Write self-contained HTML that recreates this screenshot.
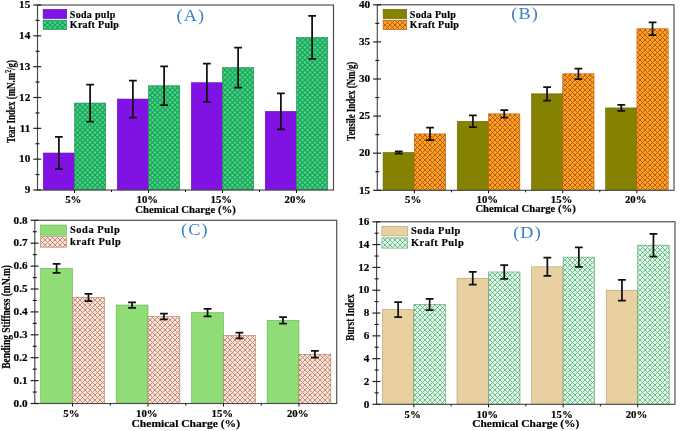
<!DOCTYPE html>
<html><head><meta charset="utf-8"><style>
html,body{margin:0;padding:0;background:#fff;}
svg{display:block;filter:blur(0.45px);}
text{font-family:"Liberation Serif",serif;font-weight:bold;fill:#000;stroke:#000;stroke-width:0.18px;}
.tl{font-size:10px;}
.al{font-size:10.2px;}
.yl{font-size:11.6px;}
.lg{font-size:10px;letter-spacing:0.3px;}
.tt{font-size:16.3px;font-weight:normal;fill:#3a82c4;stroke:none;letter-spacing:1px;}
</style></head><body>
<svg width="685" height="431" viewBox="0 0 685 431">
<defs>
<pattern id="pA" patternUnits="userSpaceOnUse" width="5" height="5">
 <rect width="5" height="5" fill="#40d886"/>
 <path d="M-1,-1 L6,6 M6,-1 L-1,6" stroke="#1f9c55" stroke-width="1.15"/>
</pattern>
<pattern id="pB" patternUnits="userSpaceOnUse" width="5" height="5">
 <rect width="5" height="5" fill="#fca222"/>
 <path d="M-1,-1 L6,6 M6,-1 L-1,6" stroke="#b8560e" stroke-width="0.95"/>
</pattern>
<pattern id="pC" patternUnits="userSpaceOnUse" width="5" height="5">
 <rect width="5" height="5" fill="#ffe2d4"/>
 <path d="M-1,-1 L6,6 M6,-1 L-1,6" stroke="#bc8a78" stroke-width="0.95"/>
</pattern>
<pattern id="pD" patternUnits="userSpaceOnUse" width="5" height="5">
 <rect width="5" height="5" fill="#dafbe6"/>
 <path d="M-1,-1 L6,6 M6,-1 L-1,6" stroke="#72b488" stroke-width="0.95"/>
</pattern>
</defs>
<rect width="685" height="431" fill="#fff"/>
<rect x="43.27" y="153" width="31.23" height="37" fill="#8012e4" stroke="#6a10c0" stroke-width="0.6"/>
<rect x="74.5" y="103.05" width="31.23" height="86.95" fill="url(#pA)" stroke="#1e8a50" stroke-width="0.6"/>
<path d="M58.89,136.97V169.03M54.99,136.97H62.79M54.99,169.03H62.79" stroke="#111" stroke-width="1.75" fill="none"/>
<path d="M90.11,84.55V121.55M86.21,84.55H94.01M86.21,121.55H94.01" stroke="#111" stroke-width="1.75" fill="none"/>
<rect x="117.27" y="99.04" width="31.23" height="90.96" fill="#8012e4" stroke="#6a10c0" stroke-width="0.6"/>
<rect x="148.5" y="85.78" width="31.23" height="104.22" fill="url(#pA)" stroke="#1e8a50" stroke-width="0.6"/>
<path d="M132.89,80.54V117.54M128.99,80.54H136.79M128.99,117.54H136.79" stroke="#111" stroke-width="1.75" fill="none"/>
<path d="M164.11,66.36V105.21M160.21,66.36H168.01M160.21,105.21H168.01" stroke="#111" stroke-width="1.75" fill="none"/>
<rect x="191.27" y="82.7" width="31.23" height="107.3" fill="#8012e4" stroke="#6a10c0" stroke-width="0.6"/>
<rect x="222.5" y="67.59" width="31.23" height="122.41" fill="url(#pA)" stroke="#1e8a50" stroke-width="0.6"/>
<path d="M206.89,63.58V101.82M202.99,63.58H210.79M202.99,101.82H210.79" stroke="#111" stroke-width="1.75" fill="none"/>
<path d="M238.11,47.55V87.63M234.21,47.55H242.01M234.21,87.63H242.01" stroke="#111" stroke-width="1.75" fill="none"/>
<rect x="265.27" y="111.37" width="31.23" height="78.63" fill="#8012e4" stroke="#6a10c0" stroke-width="0.6"/>
<rect x="296.5" y="37.38" width="31.23" height="152.62" fill="url(#pA)" stroke="#1e8a50" stroke-width="0.6"/>
<path d="M280.89,93.49V129.26M276.99,93.49H284.79M276.99,129.26H284.79" stroke="#111" stroke-width="1.75" fill="none"/>
<path d="M312.11,15.79V58.96M308.21,15.79H316.01M308.21,58.96H316.01" stroke="#111" stroke-width="1.75" fill="none"/>
<rect x="37.5" y="5" width="296" height="185" fill="none" stroke="#4a4a4a" stroke-width="1.15"/>
<path d="M33.3,190H41.2" stroke="#222" stroke-width="1.2"/>
<text transform="translate(30.3,193.2) scale(1.12,1)" text-anchor="end" class="tl">9</text>
<path d="M35.5,174.58H39.5" stroke="#111" stroke-width="1.1"/>
<path d="M33.3,159.17H41.2" stroke="#222" stroke-width="1.2"/>
<text transform="translate(30.3,162.37) scale(1.12,1)" text-anchor="end" class="tl">10</text>
<path d="M35.5,143.75H39.5" stroke="#111" stroke-width="1.1"/>
<path d="M33.3,128.33H41.2" stroke="#222" stroke-width="1.2"/>
<text transform="translate(30.3,131.53) scale(1.12,1)" text-anchor="end" class="tl">11</text>
<path d="M35.5,112.92H39.5" stroke="#111" stroke-width="1.1"/>
<path d="M33.3,97.5H41.2" stroke="#222" stroke-width="1.2"/>
<text transform="translate(30.3,100.7) scale(1.12,1)" text-anchor="end" class="tl">12</text>
<path d="M35.5,82.08H39.5" stroke="#111" stroke-width="1.1"/>
<path d="M33.3,66.67H41.2" stroke="#222" stroke-width="1.2"/>
<text transform="translate(30.3,69.87) scale(1.12,1)" text-anchor="end" class="tl">13</text>
<path d="M35.5,51.25H39.5" stroke="#111" stroke-width="1.1"/>
<path d="M33.3,35.83H41.2" stroke="#222" stroke-width="1.2"/>
<text transform="translate(30.3,39.03) scale(1.12,1)" text-anchor="end" class="tl">14</text>
<path d="M35.5,20.42H39.5" stroke="#111" stroke-width="1.1"/>
<path d="M33.3,5H41.2" stroke="#222" stroke-width="1.2"/>
<text transform="translate(30.3,8.2) scale(1.12,1)" text-anchor="end" class="tl">15</text>
<path d="M74.5,190V193" stroke="#111" stroke-width="1"/>
<text transform="translate(73.3,203) scale(1.08,1)" text-anchor="middle" class="tl">5%</text>
<path d="M148.5,190V193" stroke="#111" stroke-width="1"/>
<text transform="translate(147.3,203) scale(1.08,1)" text-anchor="middle" class="tl">10%</text>
<path d="M111.5,190V192" stroke="#111" stroke-width="1"/>
<path d="M222.5,190V193" stroke="#111" stroke-width="1"/>
<text transform="translate(221.3,203) scale(1.08,1)" text-anchor="middle" class="tl">15%</text>
<path d="M185.5,190V192" stroke="#111" stroke-width="1"/>
<path d="M296.5,190V193" stroke="#111" stroke-width="1"/>
<text transform="translate(295.3,203) scale(1.08,1)" text-anchor="middle" class="tl">20%</text>
<path d="M259.5,190V192" stroke="#111" stroke-width="1"/>
<text x="185.5" y="213" text-anchor="middle" class="al" textLength="100.5" lengthAdjust="spacingAndGlyphs">Chemical Charge (%)</text>
<text transform="translate(15,101.5) rotate(-90)" text-anchor="middle" class="yl" textLength="83" lengthAdjust="spacingAndGlyphs">Tear Index (mN.m<tspan font-size="7.5" dy="-3.8">2</tspan><tspan dy="3.8">/g)</tspan></text>
<rect x="43.1" y="9.3" width="23.6" height="9.3" fill="#8012e4" stroke="#6a10c0" stroke-width="0.6"/>
<rect x="43.1" y="20.1" width="23.6" height="9.5" fill="url(#pA)" stroke="#1e8a50" stroke-width="0.6"/>
<text x="69.8" y="17.9" class="lg" style="font-size:10px;letter-spacing:0.3px">Soda pulp</text>
<text x="69.8" y="28.4" class="lg" style="font-size:10px;letter-spacing:0.3px">Kraft Pulp</text>
<text transform="translate(190.9,20.5) scale(1.12,1)" text-anchor="middle" class="tt">(A)</text>
<rect x="383.09" y="152.46" width="31.3" height="37.84" fill="#848200" stroke="#6a6800" stroke-width="0.6"/>
<rect x="414.39" y="133.91" width="31.3" height="56.39" fill="url(#pB)" stroke="#c05a18" stroke-width="0.6"/>
<path d="M398.74,151.35V153.57M394.84,151.35H402.64M394.84,153.57H402.64" stroke="#111" stroke-width="1.75" fill="none"/>
<path d="M430.04,127.6V140.22M426.14,127.6H433.94M426.14,140.22H433.94" stroke="#111" stroke-width="1.75" fill="none"/>
<rect x="457.26" y="121.29" width="31.3" height="69.01" fill="#848200" stroke="#6a6800" stroke-width="0.6"/>
<rect x="488.56" y="113.87" width="31.3" height="76.43" fill="url(#pB)" stroke="#c05a18" stroke-width="0.6"/>
<path d="M472.91,115.36V127.23M469.01,115.36H476.81M469.01,127.23H476.81" stroke="#111" stroke-width="1.75" fill="none"/>
<path d="M504.21,110.16V117.58M500.31,110.16H508.11M500.31,117.58H508.11" stroke="#111" stroke-width="1.75" fill="none"/>
<rect x="531.44" y="93.84" width="31.3" height="96.46" fill="#848200" stroke="#6a6800" stroke-width="0.6"/>
<rect x="562.74" y="73.81" width="31.3" height="116.49" fill="url(#pB)" stroke="#c05a18" stroke-width="0.6"/>
<path d="M547.09,87.16V100.52M543.19,87.16H550.99M543.19,100.52H550.99" stroke="#111" stroke-width="1.75" fill="none"/>
<path d="M578.39,68.61V79M574.49,68.61H582.29M574.49,79H582.29" stroke="#111" stroke-width="1.75" fill="none"/>
<rect x="605.61" y="107.94" width="31.3" height="82.36" fill="#848200" stroke="#6a6800" stroke-width="0.6"/>
<rect x="636.91" y="28.77" width="31.3" height="161.53" fill="url(#pB)" stroke="#c05a18" stroke-width="0.6"/>
<path d="M621.26,104.97V110.91M617.36,104.97H625.16M617.36,110.91H625.16" stroke="#111" stroke-width="1.75" fill="none"/>
<path d="M652.56,22.31V35.22M648.66,22.31H656.46M648.66,35.22H656.46" stroke="#111" stroke-width="1.75" fill="none"/>
<rect x="377.3" y="4.8" width="296.7" height="185.5" fill="none" stroke="#4a4a4a" stroke-width="1.15"/>
<path d="M373.1,190.3H381" stroke="#222" stroke-width="1.2"/>
<text transform="translate(370.1,193.5) scale(1.12,1)" text-anchor="end" class="tl">15</text>
<path d="M375.3,171.75H379.3" stroke="#111" stroke-width="1.1"/>
<path d="M373.1,153.2H381" stroke="#222" stroke-width="1.2"/>
<text transform="translate(370.1,156.4) scale(1.12,1)" text-anchor="end" class="tl">20</text>
<path d="M375.3,134.65H379.3" stroke="#111" stroke-width="1.1"/>
<path d="M373.1,116.1H381" stroke="#222" stroke-width="1.2"/>
<text transform="translate(370.1,119.3) scale(1.12,1)" text-anchor="end" class="tl">25</text>
<path d="M375.3,97.55H379.3" stroke="#111" stroke-width="1.1"/>
<path d="M373.1,79H381" stroke="#222" stroke-width="1.2"/>
<text transform="translate(370.1,82.2) scale(1.12,1)" text-anchor="end" class="tl">30</text>
<path d="M375.3,60.45H379.3" stroke="#111" stroke-width="1.1"/>
<path d="M373.1,41.9H381" stroke="#222" stroke-width="1.2"/>
<text transform="translate(370.1,45.1) scale(1.12,1)" text-anchor="end" class="tl">35</text>
<path d="M375.3,23.35H379.3" stroke="#111" stroke-width="1.1"/>
<path d="M373.1,4.8H381" stroke="#222" stroke-width="1.2"/>
<text transform="translate(370.1,8) scale(1.12,1)" text-anchor="end" class="tl">40</text>
<path d="M414.39,190.3V193.3" stroke="#111" stroke-width="1"/>
<text transform="translate(413.19,202.8) scale(1.08,1)" text-anchor="middle" class="tl">5%</text>
<path d="M488.56,190.3V193.3" stroke="#111" stroke-width="1"/>
<text transform="translate(487.36,202.8) scale(1.08,1)" text-anchor="middle" class="tl">10%</text>
<path d="M451.48,190.3V192.3" stroke="#111" stroke-width="1"/>
<path d="M562.74,190.3V193.3" stroke="#111" stroke-width="1"/>
<text transform="translate(561.54,202.8) scale(1.08,1)" text-anchor="middle" class="tl">15%</text>
<path d="M525.65,190.3V192.3" stroke="#111" stroke-width="1"/>
<path d="M636.91,190.3V193.3" stroke="#111" stroke-width="1"/>
<text transform="translate(635.71,202.8) scale(1.08,1)" text-anchor="middle" class="tl">20%</text>
<path d="M599.83,190.3V192.3" stroke="#111" stroke-width="1"/>
<text x="525.65" y="212.4" text-anchor="middle" class="al" textLength="100.5" lengthAdjust="spacingAndGlyphs">Chemical Charge (%)</text>
<text transform="translate(355,101.2) rotate(-90)" text-anchor="middle" class="yl" textLength="79" lengthAdjust="spacingAndGlyphs">Tensile Index (Nm/g)</text>
<rect x="383.1" y="9.3" width="23.6" height="9.3" fill="#848200" stroke="#6a6800" stroke-width="0.6"/>
<rect x="383.1" y="20.1" width="23.6" height="9.5" fill="url(#pB)" stroke="#c05a18" stroke-width="0.6"/>
<text x="409.8" y="17.9" class="lg" style="font-size:10px;letter-spacing:0.3px">Soda Pulp</text>
<text x="409.8" y="28.4" class="lg" style="font-size:10px;letter-spacing:0.3px">Kraft Pulp</text>
<text transform="translate(525.2,18.5) scale(1.12,1)" text-anchor="middle" class="tt">(B)</text>
<rect x="40.69" y="268.39" width="31.85" height="135.11" fill="#90dc76" stroke="#62b05a" stroke-width="0.6"/>
<rect x="72.54" y="297.47" width="31.85" height="106.03" fill="url(#pC)" stroke="#b07a68" stroke-width="0.6"/>
<path d="M56.61,263.81V272.97M52.71,263.81H60.51M52.71,272.97H60.51" stroke="#111" stroke-width="1.75" fill="none"/>
<path d="M88.46,293.81V301.14M84.56,293.81H92.36M84.56,301.14H92.36" stroke="#111" stroke-width="1.75" fill="none"/>
<rect x="116.16" y="305.03" width="31.85" height="98.47" fill="#90dc76" stroke="#62b05a" stroke-width="0.6"/>
<rect x="148.01" y="316.48" width="31.85" height="87.02" fill="url(#pC)" stroke="#b07a68" stroke-width="0.6"/>
<path d="M132.09,302.28V307.78M128.19,302.28H135.99M128.19,307.78H135.99" stroke="#111" stroke-width="1.75" fill="none"/>
<path d="M163.94,313.5V319.46M160.04,313.5H167.84M160.04,319.46H167.84" stroke="#111" stroke-width="1.75" fill="none"/>
<rect x="191.64" y="312.59" width="31.85" height="90.91" fill="#90dc76" stroke="#62b05a" stroke-width="0.6"/>
<rect x="223.49" y="335.49" width="31.85" height="68.01" fill="url(#pC)" stroke="#b07a68" stroke-width="0.6"/>
<path d="M207.56,308.92V316.25M203.66,308.92H211.46M203.66,316.25H211.46" stroke="#111" stroke-width="1.75" fill="none"/>
<path d="M239.41,332.51V338.46M235.51,332.51H243.31M235.51,338.46H243.31" stroke="#111" stroke-width="1.75" fill="none"/>
<rect x="267.11" y="320.37" width="31.85" height="83.13" fill="#90dc76" stroke="#62b05a" stroke-width="0.6"/>
<rect x="298.96" y="354.26" width="31.85" height="49.24" fill="url(#pC)" stroke="#b07a68" stroke-width="0.6"/>
<path d="M283.04,317.17V323.58M279.14,317.17H286.94M279.14,323.58H286.94" stroke="#111" stroke-width="1.75" fill="none"/>
<path d="M314.89,350.83V357.7M310.99,350.83H318.79M310.99,357.7H318.79" stroke="#111" stroke-width="1.75" fill="none"/>
<rect x="34.8" y="220.3" width="301.9" height="183.2" fill="none" stroke="#4a4a4a" stroke-width="1.15"/>
<path d="M30.6,403.5H38.5" stroke="#222" stroke-width="1.2"/>
<text transform="translate(27.6,406.7) scale(1.12,1)" text-anchor="end" class="tl">0.0</text>
<path d="M32.8,392.05H36.8" stroke="#111" stroke-width="1.1"/>
<path d="M30.6,380.6H38.5" stroke="#222" stroke-width="1.2"/>
<text transform="translate(27.6,383.8) scale(1.12,1)" text-anchor="end" class="tl">0.1</text>
<path d="M32.8,369.15H36.8" stroke="#111" stroke-width="1.1"/>
<path d="M30.6,357.7H38.5" stroke="#222" stroke-width="1.2"/>
<text transform="translate(27.6,360.9) scale(1.12,1)" text-anchor="end" class="tl">0.2</text>
<path d="M32.8,346.25H36.8" stroke="#111" stroke-width="1.1"/>
<path d="M30.6,334.8H38.5" stroke="#222" stroke-width="1.2"/>
<text transform="translate(27.6,338) scale(1.12,1)" text-anchor="end" class="tl">0.3</text>
<path d="M32.8,323.35H36.8" stroke="#111" stroke-width="1.1"/>
<path d="M30.6,311.9H38.5" stroke="#222" stroke-width="1.2"/>
<text transform="translate(27.6,315.1) scale(1.12,1)" text-anchor="end" class="tl">0.4</text>
<path d="M32.8,300.45H36.8" stroke="#111" stroke-width="1.1"/>
<path d="M30.6,289H38.5" stroke="#222" stroke-width="1.2"/>
<text transform="translate(27.6,292.2) scale(1.12,1)" text-anchor="end" class="tl">0.5</text>
<path d="M32.8,277.55H36.8" stroke="#111" stroke-width="1.1"/>
<path d="M30.6,266.1H38.5" stroke="#222" stroke-width="1.2"/>
<text transform="translate(27.6,269.3) scale(1.12,1)" text-anchor="end" class="tl">0.6</text>
<path d="M32.8,254.65H36.8" stroke="#111" stroke-width="1.1"/>
<path d="M30.6,243.2H38.5" stroke="#222" stroke-width="1.2"/>
<text transform="translate(27.6,246.4) scale(1.12,1)" text-anchor="end" class="tl">0.7</text>
<path d="M32.8,231.75H36.8" stroke="#111" stroke-width="1.1"/>
<path d="M30.6,220.3H38.5" stroke="#222" stroke-width="1.2"/>
<text transform="translate(27.6,223.5) scale(1.12,1)" text-anchor="end" class="tl">0.8</text>
<path d="M72.54,403.5V406.5" stroke="#111" stroke-width="1"/>
<text transform="translate(71.34,417.1) scale(1.08,1)" text-anchor="middle" class="tl">5%</text>
<path d="M148.01,403.5V406.5" stroke="#111" stroke-width="1"/>
<text transform="translate(146.81,417.1) scale(1.08,1)" text-anchor="middle" class="tl">10%</text>
<path d="M110.27,403.5V405.5" stroke="#111" stroke-width="1"/>
<path d="M223.49,403.5V406.5" stroke="#111" stroke-width="1"/>
<text transform="translate(222.29,417.1) scale(1.08,1)" text-anchor="middle" class="tl">15%</text>
<path d="M185.75,403.5V405.5" stroke="#111" stroke-width="1"/>
<path d="M298.96,403.5V406.5" stroke="#111" stroke-width="1"/>
<text transform="translate(297.76,417.1) scale(1.08,1)" text-anchor="middle" class="tl">20%</text>
<path d="M261.22,403.5V405.5" stroke="#111" stroke-width="1"/>
<text x="185.75" y="426.9" text-anchor="middle" class="al" textLength="108.5" lengthAdjust="spacingAndGlyphs">Chemical Charge (%)</text>
<text transform="translate(9.8,316.9) rotate(-90)" text-anchor="middle" class="yl" textLength="103.7" lengthAdjust="spacingAndGlyphs">Bending Stiffness (mN.m)</text>
<rect x="40.5" y="225" width="25.9" height="10.2" fill="#90dc76" stroke="#62b05a" stroke-width="0.6"/>
<rect x="40.5" y="236.7" width="25.9" height="10.5" fill="url(#pC)" stroke="#b07a68" stroke-width="0.6"/>
<text x="70" y="233.3" class="lg" style="font-size:10.4px;letter-spacing:0.55px">Soda Pulp</text>
<text x="70" y="245" class="lg" style="font-size:10.4px;letter-spacing:0.55px">kraft Pulp</text>
<text transform="translate(194.9,234.5) scale(1.12,1)" text-anchor="middle" class="tt">(C)</text>
<rect x="382.42" y="309.63" width="31.48" height="94.67" fill="#e8d0a0" stroke="#b09a70" stroke-width="0.6"/>
<rect x="413.9" y="304.5" width="31.48" height="99.8" fill="url(#pD)" stroke="#5a9a70" stroke-width="0.6"/>
<path d="M398.16,302.21V317.04M394.26,302.21H402.06M394.26,317.04H402.06" stroke="#111" stroke-width="1.75" fill="none"/>
<path d="M429.64,298.79V310.2M425.74,298.79H433.54M425.74,310.2H433.54" stroke="#111" stroke-width="1.75" fill="none"/>
<rect x="457.02" y="278.26" width="31.48" height="126.04" fill="#e8d0a0" stroke="#b09a70" stroke-width="0.6"/>
<rect x="488.5" y="271.99" width="31.48" height="132.31" fill="url(#pD)" stroke="#5a9a70" stroke-width="0.6"/>
<path d="M472.76,271.99V284.53M468.86,271.99H476.66M468.86,284.53H476.66" stroke="#111" stroke-width="1.75" fill="none"/>
<path d="M504.24,265.14V278.83M500.34,265.14H508.14M500.34,278.83H508.14" stroke="#111" stroke-width="1.75" fill="none"/>
<rect x="531.62" y="266.85" width="31.48" height="137.45" fill="#e8d0a0" stroke="#b09a70" stroke-width="0.6"/>
<rect x="563.1" y="257.16" width="31.48" height="147.14" fill="url(#pD)" stroke="#5a9a70" stroke-width="0.6"/>
<path d="M547.36,257.73V275.98M543.46,257.73H551.26M543.46,275.98H551.26" stroke="#111" stroke-width="1.75" fill="none"/>
<path d="M578.84,247.46V266.85M574.94,247.46H582.74M574.94,266.85H582.74" stroke="#111" stroke-width="1.75" fill="none"/>
<rect x="606.22" y="290.24" width="31.48" height="114.06" fill="#e8d0a0" stroke="#b09a70" stroke-width="0.6"/>
<rect x="637.7" y="245.18" width="31.48" height="159.12" fill="url(#pD)" stroke="#5a9a70" stroke-width="0.6"/>
<path d="M621.96,279.97V300.5M618.06,279.97H625.86M618.06,300.5H625.86" stroke="#111" stroke-width="1.75" fill="none"/>
<path d="M653.44,233.78V256.59M649.54,233.78H657.34M649.54,256.59H657.34" stroke="#111" stroke-width="1.75" fill="none"/>
<rect x="376.6" y="221.8" width="298.4" height="182.5" fill="none" stroke="#4a4a4a" stroke-width="1.15"/>
<path d="M372.4,404.3H380.3" stroke="#222" stroke-width="1.2"/>
<text transform="translate(369.4,407.5) scale(1.12,1)" text-anchor="end" class="tl">0</text>
<path d="M374.6,392.89H378.6" stroke="#111" stroke-width="1.1"/>
<path d="M372.4,381.49H380.3" stroke="#222" stroke-width="1.2"/>
<text transform="translate(369.4,384.69) scale(1.12,1)" text-anchor="end" class="tl">2</text>
<path d="M374.6,370.08H378.6" stroke="#111" stroke-width="1.1"/>
<path d="M372.4,358.68H380.3" stroke="#222" stroke-width="1.2"/>
<text transform="translate(369.4,361.88) scale(1.12,1)" text-anchor="end" class="tl">4</text>
<path d="M374.6,347.27H378.6" stroke="#111" stroke-width="1.1"/>
<path d="M372.4,335.86H380.3" stroke="#222" stroke-width="1.2"/>
<text transform="translate(369.4,339.06) scale(1.12,1)" text-anchor="end" class="tl">6</text>
<path d="M374.6,324.46H378.6" stroke="#111" stroke-width="1.1"/>
<path d="M372.4,313.05H380.3" stroke="#222" stroke-width="1.2"/>
<text transform="translate(369.4,316.25) scale(1.12,1)" text-anchor="end" class="tl">8</text>
<path d="M374.6,301.64H378.6" stroke="#111" stroke-width="1.1"/>
<path d="M372.4,290.24H380.3" stroke="#222" stroke-width="1.2"/>
<text transform="translate(369.4,293.44) scale(1.12,1)" text-anchor="end" class="tl">10</text>
<path d="M374.6,278.83H378.6" stroke="#111" stroke-width="1.1"/>
<path d="M372.4,267.43H380.3" stroke="#222" stroke-width="1.2"/>
<text transform="translate(369.4,270.62) scale(1.12,1)" text-anchor="end" class="tl">12</text>
<path d="M374.6,256.02H378.6" stroke="#111" stroke-width="1.1"/>
<path d="M372.4,244.61H380.3" stroke="#222" stroke-width="1.2"/>
<text transform="translate(369.4,247.81) scale(1.12,1)" text-anchor="end" class="tl">14</text>
<path d="M374.6,233.21H378.6" stroke="#111" stroke-width="1.1"/>
<path d="M372.4,221.8H380.3" stroke="#222" stroke-width="1.2"/>
<text transform="translate(369.4,225) scale(1.12,1)" text-anchor="end" class="tl">16</text>
<path d="M413.9,404.3V407.3" stroke="#111" stroke-width="1"/>
<text transform="translate(412.7,418.2) scale(1.08,1)" text-anchor="middle" class="tl">5%</text>
<path d="M488.5,404.3V407.3" stroke="#111" stroke-width="1"/>
<text transform="translate(487.3,418.2) scale(1.08,1)" text-anchor="middle" class="tl">10%</text>
<path d="M451.2,404.3V406.3" stroke="#111" stroke-width="1"/>
<path d="M563.1,404.3V407.3" stroke="#111" stroke-width="1"/>
<text transform="translate(561.9,418.2) scale(1.08,1)" text-anchor="middle" class="tl">15%</text>
<path d="M525.8,404.3V406.3" stroke="#111" stroke-width="1"/>
<path d="M637.7,404.3V407.3" stroke="#111" stroke-width="1"/>
<text transform="translate(636.5,418.2) scale(1.08,1)" text-anchor="middle" class="tl">20%</text>
<path d="M600.4,404.3V406.3" stroke="#111" stroke-width="1"/>
<text x="525.8" y="427.3" text-anchor="middle" class="al" textLength="107" lengthAdjust="spacingAndGlyphs">Chemical Charge (%)</text>
<text transform="translate(354,317.4) rotate(-90)" text-anchor="middle" class="yl" textLength="46.7" lengthAdjust="spacingAndGlyphs">Burst Index</text>
<rect x="381.9" y="226.3" width="25.6" height="9.6" fill="#e8d0a0" stroke="#b09a70" stroke-width="0.6"/>
<rect x="381.9" y="237.9" width="25.6" height="10.2" fill="url(#pD)" stroke="#5a9a70" stroke-width="0.6"/>
<text x="411" y="234.4" class="lg" style="font-size:10.4px;letter-spacing:0.5px">Soda Pulp</text>
<text x="411" y="245.8" class="lg" style="font-size:10.4px;letter-spacing:0.5px">Kraft Pulp</text>
<text transform="translate(527.5,237.5) scale(1.12,1)" text-anchor="middle" class="tt">(D)</text>
</svg>
</body></html>
